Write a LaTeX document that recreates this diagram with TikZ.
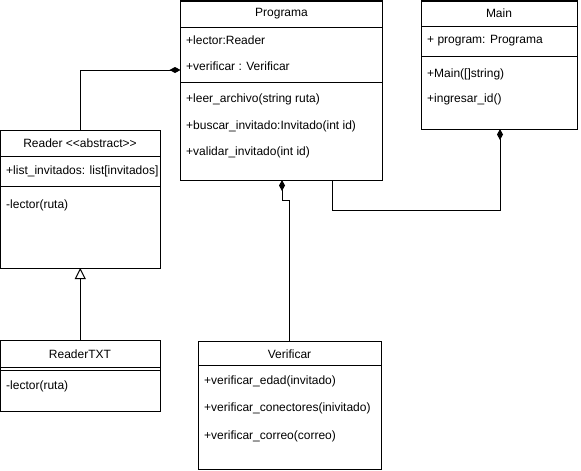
\documentclass[tikz,border=0pt]{standalone}
\usepackage{fontspec}
\setmainfont[Ligatures=NoCommon]{Liberation Sans}
\usetikzlibrary{arrows.meta,calc}
\begin{document}
\begin{tikzpicture}[x=1pt,y=-1pt,
  cls/.style={draw, line width=1pt, fill=white, anchor=north west, inner sep=0pt, outer sep=0pt},
  ttl/.style={font=\fontsize{12}{14}\selectfont, anchor=center, inner sep=0pt},
  item/.style={font=\fontsize{12}{14}\selectfont, anchor=west, inner sep=0pt},
  sep/.style={line width=1pt},
  link/.style={line width=1pt},
  comp/.style={link, {Diamond[length=11pt,width=6pt]}-}]
\useasboundingbox (0,0) rectangle (581,471);

% Programa
\node[cls, minimum width=202pt, minimum height=179pt] (prog) at (180.5,1) {};
\draw[sep] ($(prog.north west)+(0,26)$) -- ($(prog.north east)+(0,26)$);
\draw[sep] ($(prog.north west)+(0,81)$) -- ($(prog.north east)+(0,81)$);
\node[ttl] (progt) at (281.5,14) {Programa};
\node[item] (p1) at (186,40) {+lector:Reader};
\node[item] (p2) at (186,66) {+verificar : Verificar};
\node[item] (p3) at (186,99) {+leer\_archivo(string ruta)};
\node[item] (p4) at (186,126) {+buscar\_invitado:Invitado(int id)};
\node[item] (p5) at (186,152) {+validar\_invitado(int id)};

% Main
\node[cls, minimum width=156pt, minimum height=128pt] (main) at (421,1) {};
\draw[sep] ($(main.north west)+(0,25)$) -- ($(main.north east)+(0,25)$);
\draw[sep] ($(main.north west)+(0,55)$) -- ($(main.north east)+(0,55)$);
\node[ttl] (maint) at (499,13) {Main};
\node[item] (m1) at (427,41) {+ program: Programa};
\node[item] (m2) at (427,74) {+Main([]string)};
\node[item] (m3) at (427,99) {+ingresar\_id()};

% Reader
\node[cls, minimum width=159.5pt, minimum height=138pt] (reader) at (0.5,130) {};
\draw[sep] ($(reader.north west)+(0,26)$) -- ($(reader.north east)+(0,26)$);
\draw[sep] ($(reader.north west)+(0,56)$) -- ($(reader.north east)+(0,56)$);
\node[ttl] (readert) at (80,143) {Reader <{}<abstract>{}>};
\node[item] (r1) at (6,171) {+list\_invitados: list[invitados]};
\node[item] (r2) at (6,205) {-lector(ruta)};

% ReaderTXT
\node[cls, minimum width=159.5pt, minimum height=71pt] (rtxt) at (0.5,340) {};
\draw[sep] ($(rtxt.north west)+(0,27)$) -- ($(rtxt.north east)+(0,27)$);
\draw[sep] ($(rtxt.north west)+(0,30)$) -- ($(rtxt.north east)+(0,30)$);
\node[ttl] (rtxtt) at (80,354) {ReaderTXT};
\node[item] (t1) at (6,386) {-lector(ruta)};

% Verificar
\node[cls, minimum width=183pt, minimum height=128pt] (verif) at (198,341) {};
\draw[sep] ($(verif.north west)+(0,24)$) -- ($(verif.north east)+(0,24)$);
\node[ttl] (verift) at (289.5,354) {Verificar};
\node[item] (v1) at (204,381) {+verificar\_edad(invitado)};
\node[item] (v2) at (204,408) {+verificar\_conectores(inivitado)};
\node[item] (v3) at (204,436) {+verificar\_correo(correo)};

% connector anchors
\coordinate (pl) at (180.5,70);
\coordinate (pb1) at (282,180);
\coordinate (vt) at (289,341);
\coordinate (pb2) at (332,180);
\coordinate (mb) at (500,129);

\draw[comp] (pl) -- (pl -| reader.north) -- (reader.north);
\draw[comp] (pb1) -- ++(0,20) -| (vt);
\draw[comp] (mb) -- ++(0,81) -| (pb2);
\draw[link, -{Triangle[open,length=11pt,width=11pt]}] (rtxt.north) -- (reader.south);
\end{tikzpicture}
\end{document}
